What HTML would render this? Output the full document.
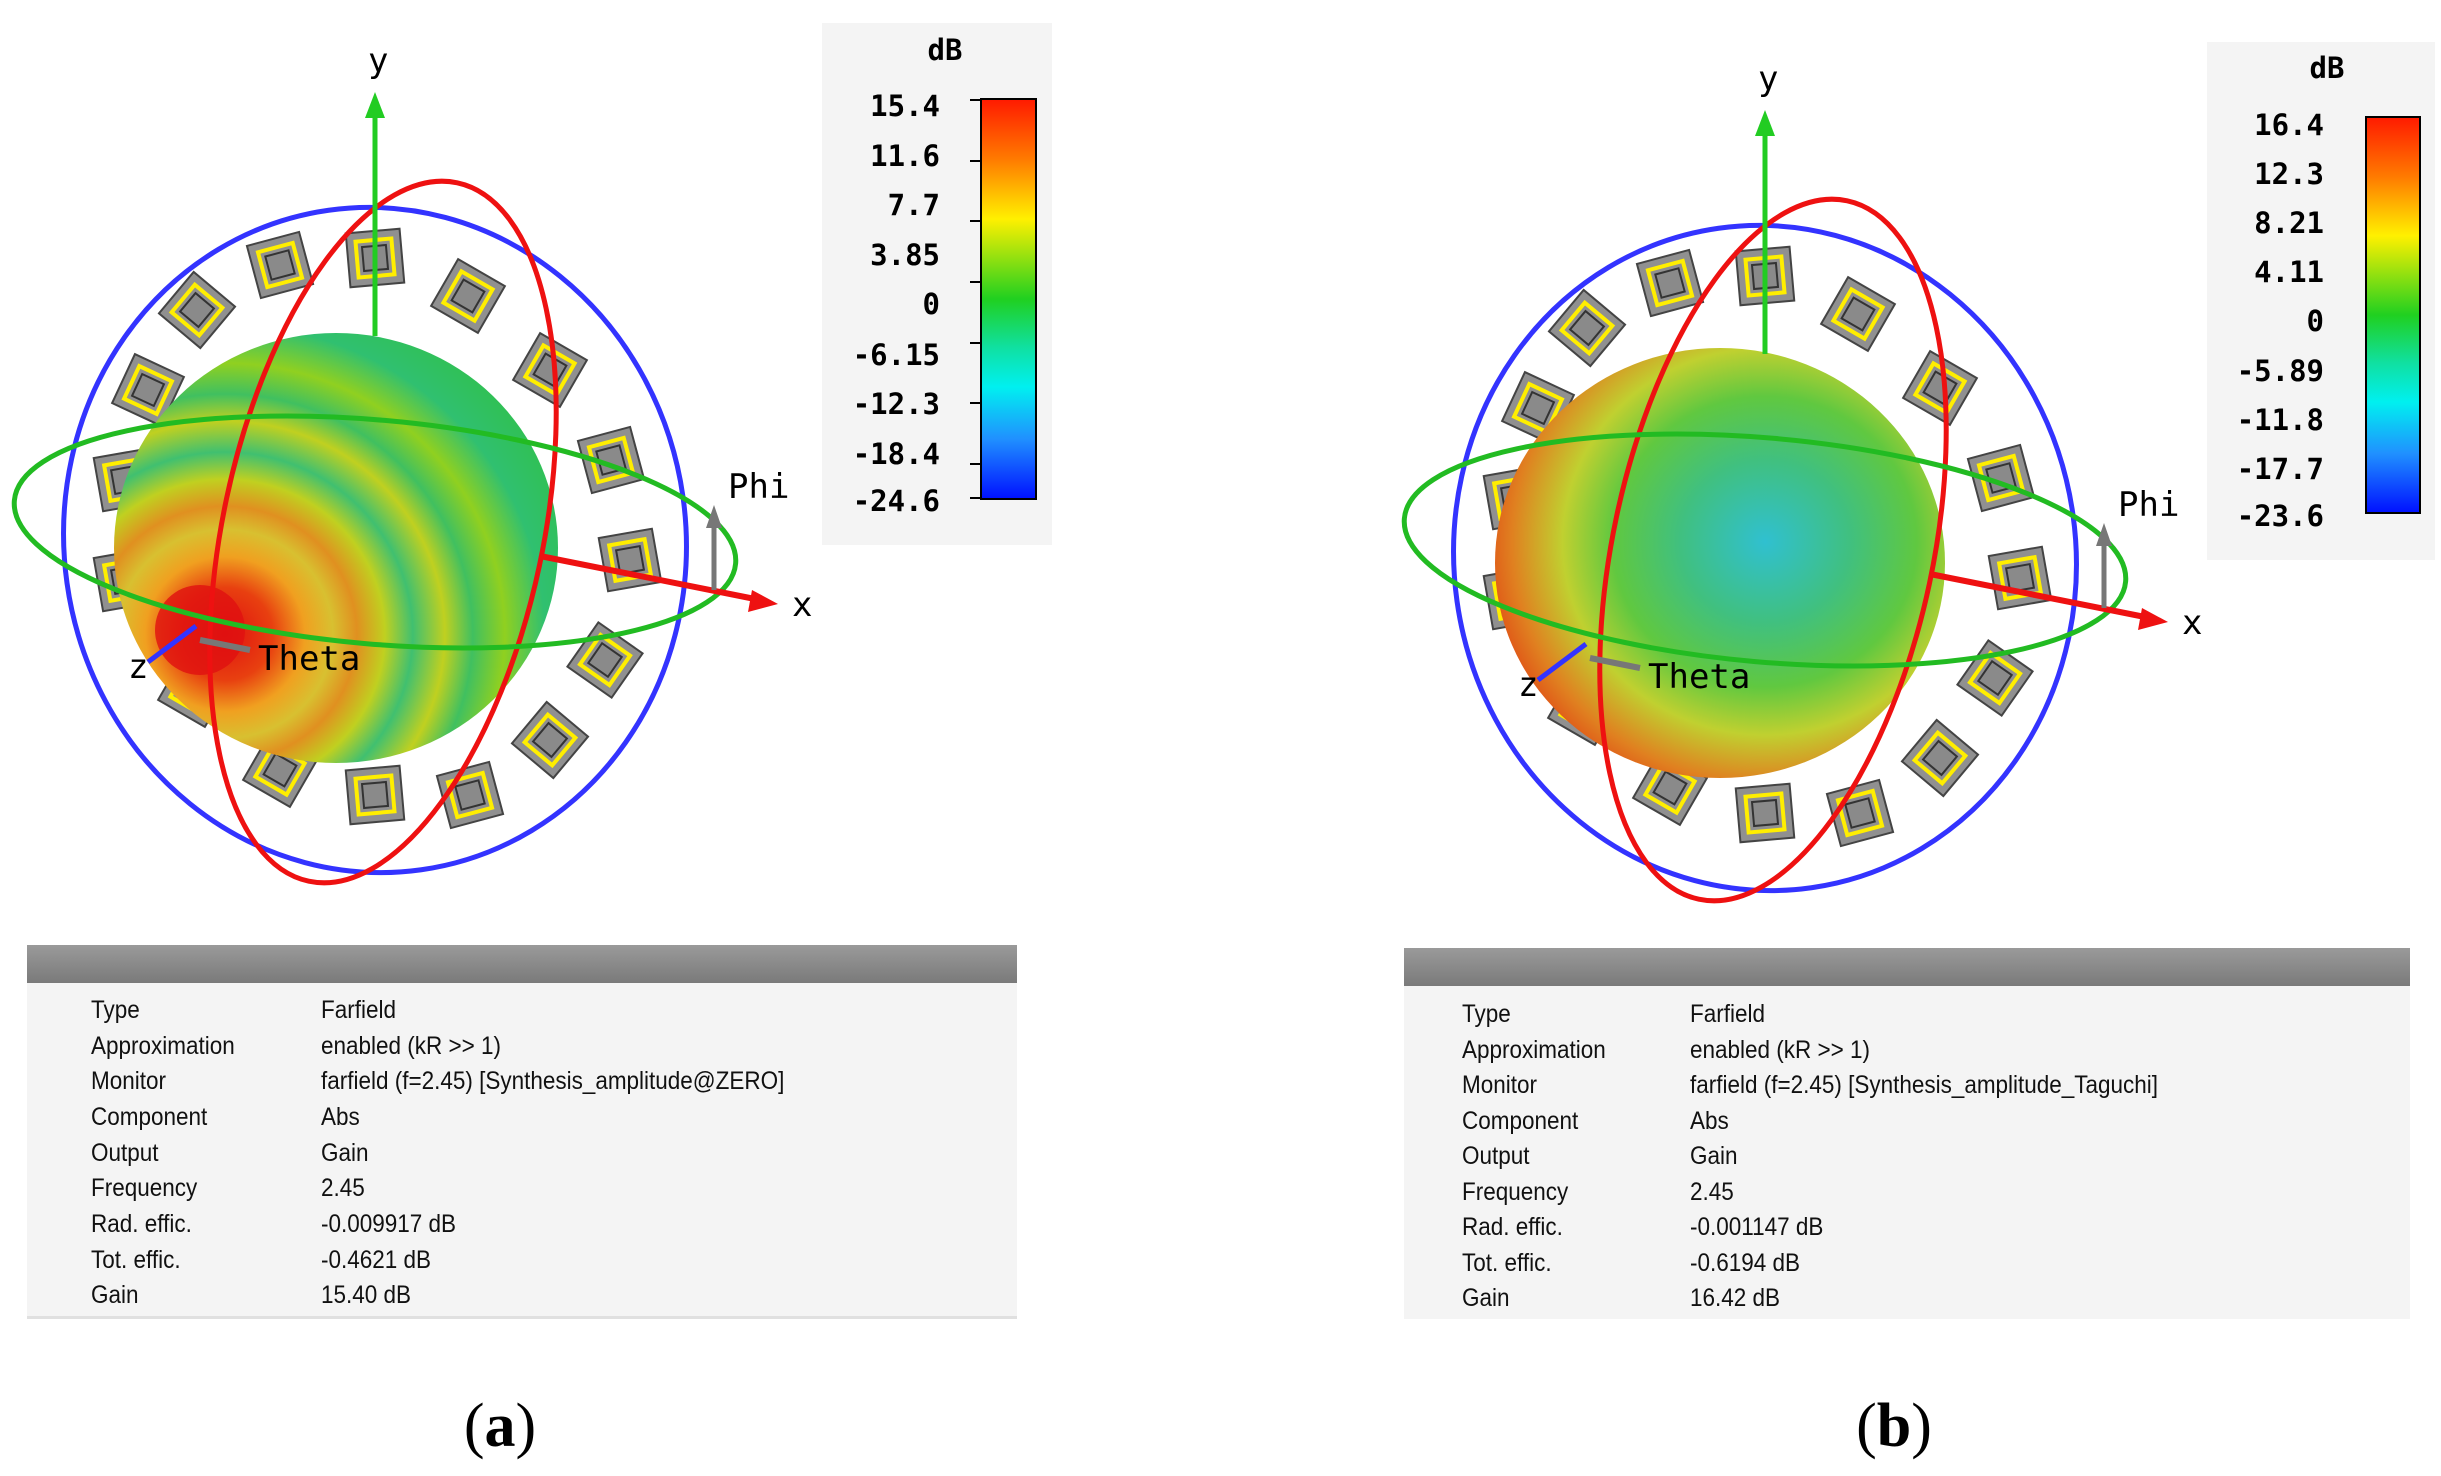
<!DOCTYPE html>
<html><head><meta charset="utf-8"><style>
html,body{margin:0;padding:0;background:#fff;}
svg{display:block;}
.cb{font-family:"DejaVu Sans Mono","Liberation Mono",monospace;font-weight:bold;font-size:29px;fill:#000;}
.ax{font-family:"DejaVu Sans Mono","Liberation Mono",monospace;font-size:34px;fill:#000;}
.inf{font-family:"Liberation Sans",sans-serif;font-size:25px;fill:#111;}
.cap{font-family:"Liberation Serif",serif;font-size:62px;fill:#000;}
</style></head><body>
<svg width="2441" height="1476" viewBox="0 0 2441 1476" xmlns="http://www.w3.org/2000/svg">
<defs>
<linearGradient id="cbar" x1="0" y1="0" x2="0" y2="1">
<stop offset="0" stop-color="#ff1a00"/><stop offset="0.15" stop-color="#ff7a00"/>
<stop offset="0.3" stop-color="#fff000"/><stop offset="0.5" stop-color="#20d020"/>
<stop offset="0.62" stop-color="#10e0a0"/><stop offset="0.72" stop-color="#00f0f0"/>
<stop offset="0.85" stop-color="#2090ff"/><stop offset="1" stop-color="#0010ff"/>
</linearGradient>
<radialGradient id="blobA" cx="0.25" cy="0.7" r="0.9">
<stop offset="0" stop-color="#e01010"/><stop offset="0.12" stop-color="#e84010"/>
<stop offset="0.2" stop-color="#f0a020"/><stop offset="0.27" stop-color="#d8c030"/>
<stop offset="0.33" stop-color="#e09020"/><stop offset="0.4" stop-color="#c0d020"/>
<stop offset="0.47" stop-color="#40c070"/><stop offset="0.55" stop-color="#c0d020"/>
<stop offset="0.62" stop-color="#40c060"/><stop offset="0.7" stop-color="#90d020"/>
<stop offset="0.8" stop-color="#30c070"/><stop offset="1" stop-color="#30c040"/>
</radialGradient>
<radialGradient id="blobB" cx="0.6" cy="0.45" r="0.75">
<stop offset="0" stop-color="#30c0d0"/><stop offset="0.25" stop-color="#40c080"/>
<stop offset="0.45" stop-color="#60c840"/><stop offset="0.6" stop-color="#c0d030"/>
<stop offset="0.75" stop-color="#e08020"/><stop offset="0.9" stop-color="#e03010"/>
<stop offset="1" stop-color="#e06010"/>
</radialGradient>
<linearGradient id="hdr" x1="0" y1="0" x2="0" y2="1"><stop offset="0" stop-color="#9a9a9a"/><stop offset="1" stop-color="#7a7a7a"/></linearGradient>
<g id="sq">
<rect x="-27" y="-27" width="54" height="54" fill="#909090" stroke="#444" stroke-width="2"/>
<rect x="-18" y="-18" width="36" height="36" fill="none" stroke="#ffee00" stroke-width="4"/>
<rect x="-12" y="-12" width="24" height="24" fill="#8a8a8a" stroke="#333" stroke-width="2"/>
</g>
<g id="ring">
<use href="#sq" transform="translate(630,560) rotate(-10)"/>
<use href="#sq" transform="translate(611,460) rotate(-15)"/>
<use href="#sq" transform="translate(550,370) rotate(30)"/>
<use href="#sq" transform="translate(468,296) rotate(30)"/>
<use href="#sq" transform="translate(375,258) rotate(-5)"/>
<use href="#sq" transform="translate(280,265) rotate(-15)"/>
<use href="#sq" transform="translate(197,310) rotate(40)"/>
<use href="#sq" transform="translate(148,390) rotate(25)"/>
<use href="#sq" transform="translate(125,480) rotate(-10)"/>
<use href="#sq" transform="translate(125,580) rotate(-10)"/>
<use href="#sq" transform="translate(195,690) rotate(30)"/>
<use href="#sq" transform="translate(280,770) rotate(30)"/>
<use href="#sq" transform="translate(375,795) rotate(-5)"/>
<use href="#sq" transform="translate(470,795) rotate(-15)"/>
<use href="#sq" transform="translate(550,740) rotate(40)"/>
<use href="#sq" transform="translate(605,660) rotate(35)"/>
</g>
</defs>

<!-- Panel A -->
<g>
<use href="#ring"/>
<ellipse cx="336" cy="548" rx="222" ry="215" fill="url(#blobA)"/>
<circle cx="200" cy="630" r="45" fill="#e01010" opacity="0.8"/>
<ellipse cx="375" cy="540" rx="311" ry="333" fill="none" stroke="#3333ff" stroke-width="5" transform="rotate(-8 375 540)"/>
<ellipse cx="383" cy="532" rx="160" ry="357" fill="none" stroke="#ee1111" stroke-width="5" transform="rotate(12 383 532)"/>
<ellipse cx="375" cy="532" rx="362" ry="112" fill="none" stroke="#22bb22" stroke-width="5" transform="rotate(5 375 532)"/>
<line x1="375" y1="336" x2="375" y2="110" stroke="#22cc22" stroke-width="5"/>
<polygon points="375,92 365,118 385,118" fill="#22cc22"/>
<line x1="540" y1="556" x2="760" y2="600" stroke="#ee1111" stroke-width="6"/>
<polygon points="778,604 752,590 748,612" fill="#ee1111"/>
<line x1="714" y1="590" x2="714" y2="520" stroke="#777" stroke-width="5"/>
<polygon points="714,505 706,528 722,528" fill="#777"/>
<line x1="196" y1="626" x2="148" y2="662" stroke="#3333ff" stroke-width="5"/>
<line x1="200" y1="640" x2="250" y2="650" stroke="#777" stroke-width="6"/>
<text class="ax" x="368" y="72">y</text>
<text class="ax" x="792" y="616">x</text>
<text class="ax" x="728" y="498">Phi</text>
<text class="ax" x="258" y="670">Theta</text>
<text class="ax" x="128" y="678">z</text>

<rect x="822" y="23" width="230" height="522" fill="#f4f4f4"/>
<rect x="981" y="99" width="55" height="400" fill="url(#cbar)" stroke="#000" stroke-width="2"/>
<text class="cb" x="945" y="60" text-anchor="middle">dB</text>
<g class="cb" text-anchor="end">
<text x="940" y="116">15.4</text><text x="940" y="166">11.6</text><text x="940" y="215">7.7</text>
<text x="940" y="265">3.85</text><text x="940" y="314">0</text><text x="940" y="365">-6.15</text>
<text x="940" y="414">-12.3</text><text x="940" y="464">-18.4</text><text x="940" y="511">-24.6</text>
</g>
<g stroke="#000" stroke-width="2">
<line x1="970" y1="100" x2="981" y2="100"/><line x1="970" y1="161" x2="981" y2="161"/><line x1="970" y1="221" x2="981" y2="221"/>
<line x1="970" y1="282" x2="981" y2="282"/><line x1="970" y1="343" x2="981" y2="343"/><line x1="970" y1="403" x2="981" y2="403"/>
<line x1="970" y1="464" x2="981" y2="464"/><line x1="970" y1="498" x2="981" y2="498"/>
</g>

<rect x="27" y="945" width="990" height="38" fill="url(#hdr)"/>
<rect x="27" y="983" width="990" height="335" fill="#f4f4f4"/>
<rect x="27" y="1316" width="990" height="3" fill="#e0e0e0"/>
<g class="inf" transform="translate(91,0) scale(0.9,1)">
<text x="0" y="1018">Type</text><text x="0" y="1054">Approximation</text><text x="0" y="1089">Monitor</text>
<text x="0" y="1125">Component</text><text x="0" y="1161">Output</text><text x="0" y="1196">Frequency</text>
<text x="0" y="1232">Rad. effic.</text><text x="0" y="1268">Tot. effic.</text><text x="0" y="1303">Gain</text>
</g>
<g class="inf" transform="translate(321,0) scale(0.9,1)">
<text x="0" y="1018">Farfield</text><text x="0" y="1054">enabled (kR &gt;&gt; 1)</text>
<text x="0" y="1089">farfield (f=2.45) [Synthesis_amplitude@ZERO]</text>
<text x="0" y="1125">Abs</text><text x="0" y="1161">Gain</text><text x="0" y="1196">2.45</text>
<text x="0" y="1232">-0.009917 dB</text><text x="0" y="1268">-0.4621 dB</text><text x="0" y="1303">15.40 dB</text>
</g>
<text class="cap" x="500" y="1446" text-anchor="middle">(<tspan font-weight="bold">a</tspan>)</text>
</g>

<!-- Panel B -->
<g transform="translate(1390,18)">
<use href="#ring"/>
<ellipse cx="330" cy="545" rx="225" ry="215" fill="url(#blobB)"/>
<ellipse cx="375" cy="540" rx="311" ry="333" fill="none" stroke="#3333ff" stroke-width="5" transform="rotate(-8 375 540)"/>
<ellipse cx="383" cy="532" rx="160" ry="357" fill="none" stroke="#ee1111" stroke-width="5" transform="rotate(12 383 532)"/>
<ellipse cx="375" cy="532" rx="362" ry="112" fill="none" stroke="#22bb22" stroke-width="5" transform="rotate(5 375 532)"/>
<line x1="375" y1="336" x2="375" y2="110" stroke="#22cc22" stroke-width="5"/>
<polygon points="375,92 365,118 385,118" fill="#22cc22"/>
<line x1="540" y1="556" x2="760" y2="600" stroke="#ee1111" stroke-width="6"/>
<polygon points="778,604 752,590 748,612" fill="#ee1111"/>
<line x1="714" y1="590" x2="714" y2="520" stroke="#777" stroke-width="5"/>
<polygon points="714,505 706,528 722,528" fill="#777"/>
<line x1="196" y1="626" x2="148" y2="662" stroke="#3333ff" stroke-width="5"/>
<line x1="200" y1="640" x2="250" y2="650" stroke="#777" stroke-width="6"/>
<text class="ax" x="368" y="72">y</text>
<text class="ax" x="792" y="616">x</text>
<text class="ax" x="728" y="498">Phi</text>
<text class="ax" x="258" y="670">Theta</text>
<text class="ax" x="128" y="678">z</text>
</g>
<g>
<rect x="2207" y="42" width="228" height="518" fill="#f4f4f4"/>
<rect x="2366" y="117" width="54" height="396" fill="url(#cbar)" stroke="#000" stroke-width="2"/>
<text class="cb" x="2327" y="78" text-anchor="middle">dB</text>
<g class="cb" text-anchor="end">
<text x="2324" y="135">16.4</text><text x="2324" y="184">12.3</text><text x="2324" y="233">8.21</text>
<text x="2324" y="282">4.11</text><text x="2324" y="331">0</text><text x="2324" y="381">-5.89</text>
<text x="2324" y="430">-11.8</text><text x="2324" y="479">-17.7</text><text x="2324" y="526">-23.6</text>
</g>
<rect x="1404" y="948" width="1006" height="38" fill="url(#hdr)"/>
<rect x="1404" y="986" width="1006" height="333" fill="#f4f4f4"/>
<g class="inf" transform="translate(1462,0) scale(0.9,1)">
<text x="0" y="1022">Type</text><text x="0" y="1058">Approximation</text><text x="0" y="1093">Monitor</text>
<text x="0" y="1129">Component</text><text x="0" y="1164">Output</text><text x="0" y="1200">Frequency</text>
<text x="0" y="1235">Rad. effic.</text><text x="0" y="1271">Tot. effic.</text><text x="0" y="1306">Gain</text>
</g>
<g class="inf" transform="translate(1690,0) scale(0.9,1)">
<text x="0" y="1022">Farfield</text><text x="0" y="1058">enabled (kR &gt;&gt; 1)</text>
<text x="0" y="1093">farfield (f=2.45) [Synthesis_amplitude_Taguchi]</text>
<text x="0" y="1129">Abs</text><text x="0" y="1164">Gain</text><text x="0" y="1200">2.45</text>
<text x="0" y="1235">-0.001147 dB</text><text x="0" y="1271">-0.6194 dB</text><text x="0" y="1306">16.42 dB</text>
</g>
<text class="cap" x="1894" y="1446" text-anchor="middle">(<tspan font-weight="bold">b</tspan>)</text>
</g>
</svg>
</body></html>
